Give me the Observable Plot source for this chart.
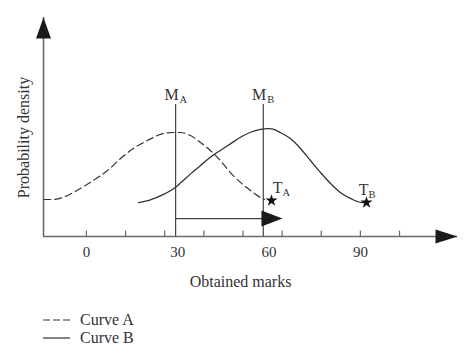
<!DOCTYPE html>
<html>
<head>
<meta charset="utf-8">
<script src="https://cdn.jsdelivr.net/npm/d3@7"></script>
<script src="https://cdn.jsdelivr.net/npm/@observablehq/plot@0.6"></script>
<style>
  html, body { margin: 0; padding: 0; background: #fff; }
  #legend { padding: 11px 0 0 43px; font-family: "Liberation Serif", serif; font-size: 16px; color: #333; }
  .row { display: flex; align-items: center; height: 18px; }
  .row span { margin-left: 10px; }
</style>
</head>
<body>
<div id="chart"></div>
<div id="legend"></div>
<script>
// ---- data ----
const xTickLabels = [0, 30, 60, 90];
const minorTicks = [0, 12.86, 25.71, 38.57, 51.43, 64.29, 77.14, 90, 102.86];

const curveAx = [-14.0, -10.8, -6.2, -2.0, 2.3, 6.9, 11.2, 15.4, 20.0, 24.3, 28.6, 30.9, 34.2, 37.5, 40.7, 44.0, 47.3, 50.6, 53.9, 57.2, 58.5];
const curveAy = [16.9, 16.9, 18.7, 21.9, 25.6, 30.1, 35.6, 40.2, 43.8, 46.6, 47.5, 47.5, 46.1, 42.9, 39.3, 34.7, 29.2, 24.7, 21.0, 17.8, 16.9];

const curveBx = [17.1, 21.0, 25.3, 29.3, 30.9, 34.2, 37.5, 40.7, 44.0, 47.3, 50.6, 53.9, 57.2, 59.5, 61.0, 63.7, 67.0, 70.3, 73.6, 76.9, 80.2, 83.4, 86.7, 90.0, 91.7];
const curveBy = [15.5, 16.7, 19.2, 22.5, 24.4, 28.6, 32.4, 36.2, 39.3, 42.3, 45.3, 47.6, 48.9, 49.3, 49.1, 47.5, 44.7, 40.2, 34.7, 29.2, 24.2, 20.1, 17.4, 15.6, 15.5];

const meanNames = ["A", "B"];
const meanX = [29.3, 58.1];
const meanTop = 60.3;

const targetNames = ["A", "B"];
const targetX = [60.8, 92.0];
const targetY = [16.4, 15.5];

const shiftFrom = 29.3, shiftTo = 64.4, shiftY = 8.2;

const xDomain = [-14.1, 121.9];
const yDomain = [0, 100];

const seriesNames = ["Curve A", "Curve B"];

// ---- build tables ----
const curveA = curveAx.map((x, i) => ({x, y: curveAy[i]}));
const curveB = curveBx.map((x, i) => ({x, y: curveBy[i]}));
const means = meanNames.map((name, i) => ({name, x: meanX[i]}));
const targets = targetNames.map((name, i) => ({name, x: targetX[i], y: targetY[i]}));

// ---- custom filled arrowheads (tip at the anchor point) ----
const headRight = (len, half) => ({draw(ctx) { ctx.moveTo(0, 0); ctx.lineTo(-len, -half); ctx.lineTo(-len, half); ctx.closePath(); }});
const headUp = (len, half) => ({draw(ctx) { ctx.moveTo(0, 0); ctx.lineTo(-half, len); ctx.lineTo(half, len); ctx.closePath(); }});

const ink = "#333";
const labelDx = {A: 11, B: 2};

const chart = Plot.plot({
  width: 474,
  height: 300,
  marginLeft: 43,
  marginRight: 17,
  marginTop: 17,
  marginBottom: 64,
  x: {domain: xDomain},
  y: {domain: yDomain, axis: null},
  style: {fontFamily: "Liberation Serif, serif", fontSize: "16px", color: ink, background: "#fff"},
  marks: [
    // axes lines
    Plot.ruleY([0], {stroke: "#6a6a6a", strokeWidth: 1.6}),
    Plot.ruleX([xDomain[0]], {stroke: "#6a6a6a", strokeWidth: 1.6}),
    Plot.ruleX(minorTicks, {y1: 0, y2: 2.5, stroke: "#6a6a6a", strokeWidth: 1.2}),
    Plot.axisX(xTickLabels, {tickSize: 0, tickPadding: 10, fontSize: 15, label: null, fill: ink}),
    Plot.text(["Obtained marks"], {frameAnchor: "bottom", lineAnchor: "middle", textAnchor: "middle", dx: -10, dy: 45, fontSize: 16, fill: ink}),
    Plot.text(["Probability density"], {frameAnchor: "left", textAnchor: "middle", lineAnchor: "middle", rotate: -90, dx: -20, dy: 10.5, fontSize: 16, fill: ink}),
    // mean lines
    Plot.ruleX(means, {x: "x", y1: 0, y2: meanTop, stroke: "#444", strokeWidth: 1.2}),
    Plot.text(means, {x: "x", y: meanTop, text: () => "M", textAnchor: "end", dx: 3, dy: -10, fontSize: 16, fill: ink}),
    Plot.text(means, {x: "x", y: meanTop, text: "name", textAnchor: "start", dx: 4, dy: -5, fontSize: 10.5, fill: ink}),
    // curves
    Plot.line(curveA, {x: "x", y: "y", curve: "monotone-x", stroke: ink, strokeWidth: 1.2, strokeDasharray: "7,4"}),
    Plot.line(curveB, {x: "x", y: "y", curve: "monotone-x", stroke: ink, strokeWidth: 1.3}),
    // shift arrow
    Plot.ruleY([shiftY], {x1: shiftFrom, x2: shiftTo - 3, stroke: "#444", strokeWidth: 1.3}),
    Plot.dot([{x: shiftTo, y: shiftY}], {x: "x", y: "y", symbol: headRight(21, 8), fill: "#1a1a1a", stroke: "none"}),
    // axis arrowheads
    Plot.dot([{x: xDomain[1], y: 0}], {x: "x", y: "y", symbol: headRight(22, 7), fill: "#1a1a1a", stroke: "none"}),
    Plot.dot([{x: xDomain[0], y: yDomain[1]}], {x: "x", y: "y", symbol: headUp(21, 7.5), fill: "#1a1a1a", stroke: "none"}),
    // targets
    Plot.dot(targets, {x: "x", y: "y", symbol: "star", r: 3.8, fill: "#111", stroke: "none"}),
    ...targets.map(t => Plot.text([t], {x: "x", y: "y", text: () => "T", textAnchor: "end", dx: labelDx[t.name], dy: -13, fontSize: 16, fill: ink})),
    ...targets.map(t => Plot.text([t], {x: "x", y: "y", text: "name", textAnchor: "start", dx: labelDx[t.name], dy: -8, fontSize: 10.5, fill: ink}))
  ]
});
document.getElementById("chart").appendChild(chart);

// legend
const dashes = {"Curve A": "7,3", "Curve B": null};
const legend = d3.select("#legend");
seriesNames.forEach(name => {
  const row = legend.append("div").attr("class", "row");
  const s = row.append("svg").attr("width", 27).attr("height", 18);
  s.append("line").attr("x1", 0).attr("x2", 27).attr("y1", 9).attr("y2", 9)
    .attr("stroke", ink).attr("stroke-width", 1.2)
    .attr("stroke-dasharray", dashes[name]);
  row.append("span").text(name);
});
</script>
</body>
</html>
